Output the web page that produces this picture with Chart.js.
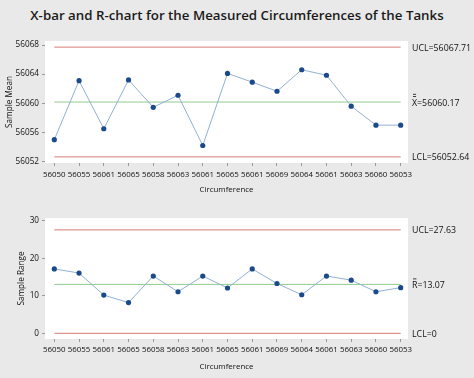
<!DOCTYPE html>
<html>
<head>
<meta charset="utf-8">
<script src="https://cdn.jsdelivr.net/npm/chart.js@4.4.1/dist/chart.umd.min.js"></script>
<style>
  html, body { margin: 0; padding: 0; background: #e9e9e9; }
  body { width: 474px; height: 378px; position: relative; overflow: hidden; font-family: 'Open Sans', sans-serif; }
  #title { position: absolute; left: 0; top: 6px; width: 474px; text-align: center; font-size: 13.3px; font-weight: 600; color: #1a1a1a; }
  #topWrap { position: absolute; left: 0; top: 0; width: 474px; height: 200px; }
  #botWrap { position: absolute; left: 0; top: 200px; width: 474px; height: 178px; }
</style>
</head>
<body>
<div id="title">X-bar and R-chart for the Measured Circumferences of the Tanks</div>
<div id="topWrap"><canvas id="meanChart"></canvas></div>
<div id="botWrap"><canvas id="rangeChart"></canvas></div>
<script>
// данные
const sampleLabels = ['56050', '56055', '56061', '56065', '56058', '56063', '56061', '56065',
                      '56061', '56069', '56064', '56061', '56063', '56060', '56053'];
const meanValues = [56055.0, 56063.1, 56056.5, 56063.2, 56059.45, 56061.1, 56054.2, 56064.1,
                    56062.9, 56061.65, 56064.6, 56063.85, 56059.6, 56057.0, 56057.0];
const rangeValues = [17.2, 16.1, 10.2, 8.2, 15.3, 11.1, 15.3, 12.1, 17.2, 13.3, 10.3, 15.3, 14.2, 11.1, 12.2];
const meanLimits = [56067.71, 56060.17, 56052.64];   // UCL, центр, LCL
const rangeLimits = [27.63, 13.07, 0];
const meanTicks = [56052, 56056, 56060, 56064, 56068];
const rangeTicks = [0, 10, 20, 30];

const TEXT = '#111';
const FONT = '"Open Sans", sans-serif';
Chart.defaults.font.family = FONT;
Chart.defaults.color = TEXT;

const plotBg = {
    id: 'plotBg',
    beforeDraw(chart) {
        const a = chart.chartArea, c = chart.ctx;
        c.save();
        c.fillStyle = '#ffffff';
        c.fillRect(a.left, a.top, a.right - a.left, a.bottom - a.top);
        c.restore();
    }
};

// подписи контрольных линий справа
const limitText = {
    id: 'limitText',
    afterDraw(chart, args, opts) {
        const c = chart.ctx, y = chart.scales.y;
        const x0 = chart.chartArea.right + 4;
        c.save();
        c.font = '8.8px ' + FONT;
        c.fillStyle = TEXT;
        c.textBaseline = 'middle';
        opts.items.forEach(it => {
            const py = y.getPixelForValue(it.value) + (it.dy || 0);
            c.fillText(it.text, x0, py);
            if (it.bars) {
                const w = c.measureText(it.text[0]).width;
                c.strokeStyle = TEXT;
                c.lineWidth = 0.8;
                for (let i = 0; i < it.bars; i++) {
                    const by = py - 6.5 - i * 2.2;
                    c.beginPath();
                    c.moveTo(x0 + 1, by);
                    c.lineTo(x0 + w - 1, by);
                    c.stroke();
                }
            }
        });
        c.restore();
    }
};

function limitSet(v, color) {
    return {
        data: [{x: 0, y: v}, {x: sampleLabels.length - 1, y: v}],
        borderColor: color,
        borderWidth: 1,
        pointRadius: 0,
        order: 2
    };
}

function makeChart(id, values, limits, ticks, yMin, yMax, yTitle, yTitlePad, pad, xTitlePad, xTickPad, labels) {
    return new Chart(document.getElementById(id), {
        type: 'line',
        data: {
            datasets: [
                limitSet(limits[0], '#d67c74'),
                limitSet(limits[1], '#8fca8e'),
                limitSet(limits[2], '#d67c74'),
                {
                    data: values.map((v, i) => ({x: i, y: v})),
                    borderColor: '#92b1d6',
                    borderWidth: 1,
                    pointRadius: 2.6,
                    pointBackgroundColor: '#1b4a8a',
                    pointBorderColor: '#1b4a8a',
                    pointBorderWidth: 0,
                    order: 1
                }
            ]
        },
        options: {
            responsive: true,
            maintainAspectRatio: false,
            animation: false,
            layout: { padding: pad },
            plugins: {
                legend: { display: false },
                tooltip: { enabled: false },
                limitText: { items: labels }
            },
            scales: {
                x: {
                    type: 'linear',
                    min: -0.376,
                    max: sampleLabels.length - 1 + 0.295,
                    afterBuildTicks: s => { s.ticks = sampleLabels.map((l, i) => ({value: i})); },
                    afterFit: s => { s.height = pad.xh; },
                    ticks: {
                        autoSkip: false,
                        maxRotation: 0,
                        padding: xTickPad,
                        font: { size: 7.9 },
                        callback: v => sampleLabels[v]
                    },
                    grid: { drawOnChartArea: false, tickLength: 3, color: '#999' },
                    border: { display: false },
                    title: { display: true, text: 'Circumference', font: { size: 7.9 }, padding: { top: 0, bottom: xTitlePad } }
                },
                y: {
                    min: yMin,
                    max: yMax,
                    afterBuildTicks: s => { s.ticks = ticks.map(v => ({value: v})); },
                    afterFit: s => { s.width = 45; },
                    ticks: { padding: 3, font: { size: 8.2 }, callback: v => String(v) },
                    grid: { drawOnChartArea: false, tickLength: 3, color: '#999' },
                    border: { display: false },
                    title: { display: true, text: yTitle, font: { size: 8.2 }, padding: { top: yTitlePad, bottom: 0 } }
                }
            }
        },
        plugins: [plotBg, limitText]
    });
}

makeChart('meanChart', meanValues, meanLimits, meanTicks, 56051.8, 56068.55,
    'Sample Mean', 5, {top: 41, right: 66, left: 0, bottom: 0, xh: 37}, 6, 4,
    [
        {value: meanLimits[0], text: 'UCL=56067.71', dy: 1},
        {value: meanLimits[1], text: 'X=56060.17', dy: 1, bars: 2},
        {value: meanLimits[2], text: 'LCL=56052.64', dy: 1}
    ]);

makeChart('rangeChart', rangeValues, rangeLimits, rangeTicks, -1.52, 30.8,
    'Sample Range', 17, {top: 18, right: 66, left: 0, bottom: 0, xh: 39}, 7, 3,
    [
        {value: rangeLimits[0], text: 'UCL=27.63', dy: 1},
        {value: rangeLimits[1], text: 'R=13.07', dy: 1, bars: 1},
        {value: rangeLimits[2], text: 'LCL=0', dy: 1}
    ]);
</script>
</body>
</html>
